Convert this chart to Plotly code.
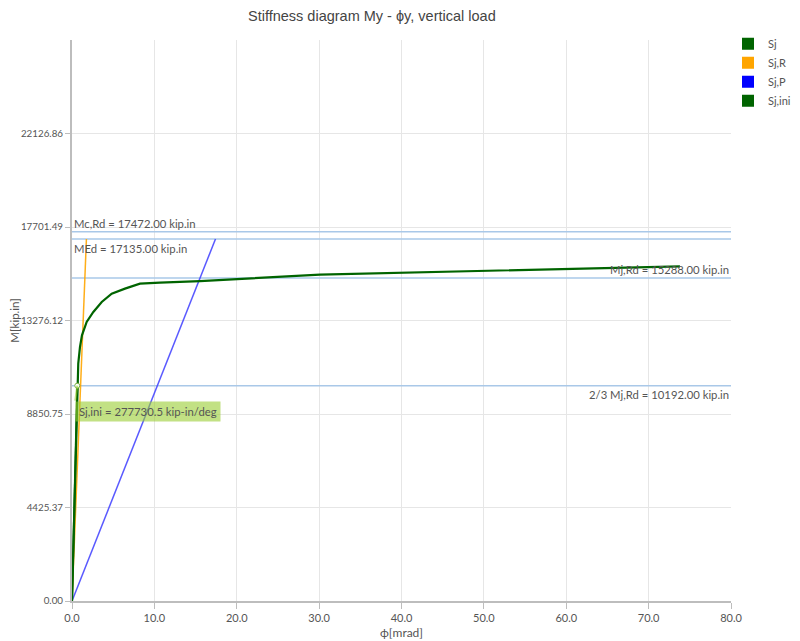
import plotly.graph_objects as go

# ---- data ----
sj_phi = [0.0, 0.64, 0.76, 0.97, 1.21, 1.78, 2.59, 3.61, 4.82, 6.43, 8.25, 10.68, 15.54, 30.1, 58.0, 73.8]
sj_m = [0.0, 10192, 11239, 12024, 12577, 13206, 13678, 14151, 14548, 14785, 15021, 15069, 15144, 15447, 15683, 15839]

sjr_phi = [0.0, 1.75]
sjr_m = [0.0, 17135]

sjp_phi = [0.0, 17.42]
sjp_m = [0.0, 17135]

sjini_phi = [0.0, 0.64]
sjini_m = [0.0, 10192]

level_names = ["Mc,Rd", "MEd", "Mj,Rd", "2/3 Mj,Rd"]
level_values = [17472.00, 17135.00, 15288.00, 10192.00]
level_span = [0.0, 80.0]

y_ticks = [0.00, 4425.37, 8850.75, 13276.12, 17701.49, 22126.86]
y_max = 26552.23
x_range = [0, 80]

sjini_label = "Sj,ini = 277730.5 kip-in/deg"

FONT = "Lato"
GRAY = "#555555"

fig = go.Figure()

# horizontal reference levels
for name, val in zip(level_names, level_values):
    fig.add_trace(go.Scatter(x=level_span, y=[val, val], mode="lines",
                             line=dict(color="#a9c8e8", width=1.5),
                             showlegend=False, hoverinfo="skip"))

fig.add_trace(go.Scatter(x=sjp_phi, y=sjp_m, mode="lines",
                         line=dict(color="rgba(60,60,255,0.85)", width=1.5),
                         showlegend=False))
fig.add_trace(go.Scatter(x=sjr_phi, y=sjr_m, mode="lines",
                         line=dict(color="rgba(255,165,0,0.9)", width=1.5),
                         showlegend=False))
fig.add_trace(go.Scatter(x=sjini_phi, y=sjini_m, mode="lines",
                         line=dict(color="#006400", width=2),
                         showlegend=False))
fig.add_trace(go.Scatter(x=sj_phi, y=sj_m, mode="lines",
                         line=dict(color="#006400", width=2.2),
                         showlegend=False))
fig.add_trace(go.Scatter(x=[sjini_phi[-1]], y=[sjini_m[-1]], mode="markers",
                         marker=dict(color="white", size=5, line=dict(color="#7cb342", width=1)),
                         showlegend=False))

# legend entries
legend_items = [("Sj", "#006400"), ("Sj,R", "#ffa500"), ("Sj,P", "#0000ff"), ("Sj,ini", "#006400")]
for name, col in legend_items:
    fig.add_trace(go.Scatter(x=[None], y=[None], mode="markers", name=name,
                             marker=dict(symbol="square", size=10, color=col)))

# annotations for levels
ann_font = dict(family=FONT, size=11.3, color=GRAY)
fig.add_annotation(x=0, y=level_values[0], text=f"{level_names[0]} = {level_values[0]:.2f} kip.in",
                   xanchor="left", yanchor="bottom", showarrow=False, font=ann_font, yshift=0)
fig.add_annotation(x=0, y=level_values[1], text=f"{level_names[1]} = {level_values[1]:.2f} kip.in",
                   xanchor="left", yanchor="top", showarrow=False, font=ann_font, yshift=-1)
fig.add_annotation(x=80, y=level_values[2], text=f"{level_names[2]} = {level_values[2]:.2f} kip.in",
                   xanchor="right", yanchor="bottom", showarrow=False, font=ann_font, yshift=0)
fig.add_annotation(x=80, y=level_values[3], text=f"{level_names[3]} = {level_values[3]:.2f} kip.in",
                   xanchor="right", yanchor="top", showarrow=False, font=ann_font, yshift=0)
fig.add_annotation(x=sjini_phi[-1], y=sjini_m[-1], text=sjini_label,
                   showarrow=True, arrowhead=0, arrowcolor="rgba(154,205,50,0.6)", arrowwidth=2,
                   ax=-2, ay=15, xanchor="left", yanchor="top",
                   bgcolor="rgba(154,205,50,0.6)", font=ann_font, borderpad=3)

fig.update_layout(
    width=800, height=641,
    margin=dict(l=64, r=77, t=32, b=48, autoexpand=False),
    paper_bgcolor="white", plot_bgcolor="white",
    font=dict(family=FONT, size=11, color=GRAY),
    title=dict(text="Stiffness diagram My - ϕy, vertical load",
               font=dict(family="Liberation Sans", size=14.5, color="#444"),
               x=0.455, xref="paper", xanchor="center", y=0.996, yref="container", yanchor="top"),
    legend=dict(x=0.9, y=0.967, xref="container", yref="container", xanchor="left", yanchor="top",
                font=dict(size=11, color=GRAY), tracegroupgap=0, itemsizing="constant"),
    xaxis=dict(range=x_range, dtick=10, tickformat=".1f", showgrid=True, gridcolor="#e6e6e6",
               zeroline=False, showline=True, linecolor="#bdbdbd", linewidth=2, automargin=True,
               ticks="outside", ticklen=6, tickcolor="#bdbdbd", tickfont=dict(size=11),
               title=dict(text="ϕ[mrad]", standoff=5, font=dict(size=12, color=GRAY))),
    yaxis=dict(range=[0, y_max], tickvals=y_ticks, ticktext=[f"{v:.2f}" for v in y_ticks],
               showgrid=True, gridcolor="#e6e6e6", automargin=True, tickfont=dict(size=9.8),
               zeroline=False, showline=True, linecolor="#bdbdbd", linewidth=2,
               ticks="outside", ticklen=5, tickcolor="#bdbdbd",
               title=dict(text="M[kip.in]", standoff=0, font=dict(size=11.5, color=GRAY))),
)

fig.write_html("out.html")
